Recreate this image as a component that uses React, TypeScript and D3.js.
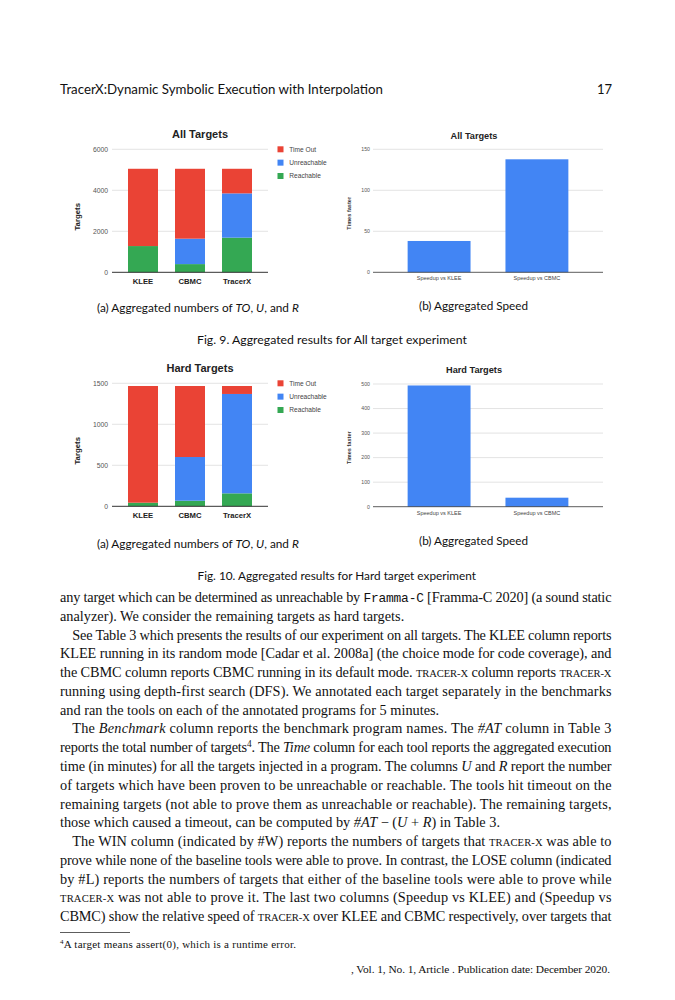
import React from 'react';
import * as d3 from 'd3';

// ---------- data ----------
const toolNames = ['KLEE', 'CBMC', 'TracerX'];
const seriesNames = ['Reachable', 'Unreachable', 'Time Out'];
const legendOrder = ['Time Out', 'Unreachable', 'Reachable'];
const allReachable = [1280, 400, 1690];
const allUnreachable = [0, 1240, 2160];
const allTimeOut = [3770, 3410, 1200];
const hardReachable = [44, 68, 158];
const hardUnreachable = [0, 533, 1212];
const hardTimeOut = [1423, 866, 97];
const speedupLabels = ['Speedup vs KLEE', 'Speedup vs CBMC'];
const allSpeedup = [38.2, 137.8];
const hardSpeedup = [494, 36.7];
const allTargetTicks = [0, 2000, 4000, 6000];
const hardTargetTicks = [0, 500, 1000, 1500];
const allSpeedTicks = [0, 50, 100, 150];
const hardSpeedTicks = [0, 100, 200, 300, 400, 500];

const colorOf: Record<string, string> = {
  Reachable: '#34A853',
  Unreachable: '#4285F4',
  'Time Out': '#EA4335',
};

const SANS = 'Liberation Sans, Arial, sans-serif';
const SERIF = 'Liberation Serif, Times New Roman, serif';
const CAP = 'Lato, Open Sans, sans-serif';

function StackedChart({ title, reach, unreach, timeout, ticks, yBottom, yTop }: any) {
  const rows = toolNames.map((t, i) => ({
    tool: t,
    Reachable: reach[i],
    Unreachable: unreach[i],
    'Time Out': timeout[i],
  }));
  const stacked = d3.stack<any>().keys(seriesNames)(rows);
  const y = d3.scaleLinear().domain([0, ticks[ticks.length - 1]]).range([yBottom, yTop]);
  const x = d3.scaleBand().domain(toolNames).range([119.5, 260.5]).paddingInner(0.362).paddingOuter(0.181);
  const gx0 = 112, gx1 = 268;
  return (
    <g>
      <text x={200} y={yBottom - 134.3} textAnchor="middle" fontFamily={SANS} fontWeight="bold" fontSize={11} fill="#222">{title}</text>
      {ticks.map((t: number) => (
        <g key={t}>
          {t !== 0 && <line x1={gx0} x2={gx1} y1={y(t)} y2={y(t)} stroke="#dcdcdc" strokeWidth={0.8} />}
          <text x={108} y={y(t) + 2.4} textAnchor="end" fontFamily={SANS} fontSize={6.8} fill="#555">{t}</text>
        </g>
      ))}
      {stacked.map((s: any) => (
        <g key={s.key} fill={colorOf[s.key]}>
          {s.map((d: any, i: number) => (
            <rect key={i} x={x(toolNames[i])} width={x.bandwidth()} y={y(d[1])} height={Math.max(0, y(d[0]) - y(d[1]))} />
          ))}
        </g>
      ))}
      <line x1={gx0} x2={gx1} y1={yBottom} y2={yBottom} stroke="#333" strokeWidth={1} />
      {toolNames.map((t) => (
        <text key={t} x={(x(t) as number) + x.bandwidth() / 2} y={yBottom + 12} textAnchor="middle" fontFamily={SANS} fontWeight="bold" fontSize={7.7} fill="#222">{t}</text>
      ))}
      <text transform={`translate(79.5,${yBottom - 55.5}) rotate(-90)`} textAnchor="middle" fontFamily={SANS} fontWeight="bold" fontSize={7.8} fill="#222">Targets</text>
      {legendOrder.map((k, i) => (
        <g key={k}>
          <rect x={277.5} y={yBottom - 123 + i * 13.35 - 3} width={6} height={6} fill={colorOf[k]} />
          <text x={289.3} y={yBottom - 123 + i * 13.35 + 2.3} fontFamily={SANS} fontSize={6.6} fill="#444">{k}</text>
        </g>
      ))}
    </g>
  );
}

function SpeedChart({ title, values, ticks, yBottom, yTop }: any) {
  const y = d3.scaleLinear().domain([0, ticks[ticks.length - 1]]).range([yBottom, yTop]);
  const x = d3.scaleBand().domain(speedupLabels).range([373, 603]).paddingInner(0.357).paddingOuter(0.354);
  const gx0 = 373, gx1 = 603;
  return (
    <g>
      <text x={474} y={yBottom - 133.6} textAnchor="middle" fontFamily={SANS} fontWeight="bold" fontSize={9.2} fill="#222">{title}</text>
      {ticks.map((t: number) => (
        <g key={t}>
          {t !== 0 && <line x1={gx0} x2={gx1} y1={y(t)} y2={y(t)} stroke="#dcdcdc" strokeWidth={0.8} />}
          <text x={370} y={y(t) + 1.8} textAnchor="end" fontFamily={SANS} fontSize={5.2} fill="#555">{t}</text>
        </g>
      ))}
      {values.map((v: number, i: number) => (
        <rect key={i} x={x(speedupLabels[i])} width={x.bandwidth()} y={y(v)} height={yBottom - y(v)} fill="#4285F4" />
      ))}
      <line x1={gx0} x2={gx1} y1={yBottom} y2={yBottom} stroke="#333" strokeWidth={0.8} />
      {speedupLabels.map((t) => (
        <text key={t} x={(x(t) as number) + x.bandwidth() / 2} y={yBottom + 8} textAnchor="middle" fontFamily={SANS} fontSize={5.5} fill="#444">{t}</text>
      ))}
      <text transform={`translate(351.3,${yBottom - 59}) rotate(-90)`} textAnchor="middle" fontFamily={SANS} fontSize={5.6} fontWeight="bold" fill="#333">Times faster</text>
    </g>
  );
}

// ---------- page text ----------
type Seg = [string, string];
const bodyLines: { segs: Seg[]; indent?: boolean; just: boolean }[] = [
  { segs: [['n', 'any target which can be determined as unreachable by '], ['m', 'Framma-C'], ['n', ' [Framma-C 2020] (a sound static']], just: true },
  { segs: [['n', 'analyzer). We consider the remaining targets as hard targets.']], just: false },
  { segs: [['n', 'See Table 3 which presents the results of our experiment on all targets. The KLEE column reports']], indent: true, just: true },
  { segs: [['n', 'KLEE running in its random mode [Cadar et al. 2008a] (the choice mode for code coverage), and']], just: true },
  { segs: [['n', 'the CBMC column reports CBMC running in its default mode. '], ['sc', 'TRACER-X'], ['n', ' column reports '], ['sc', 'TRACER-X']], just: true },
  { segs: [['n', 'running using depth-first search (DFS). We annotated each target separately in the benchmarks']], just: true },
  { segs: [['n', 'and ran the tools on each of the annotated programs for 5 minutes.']], just: false },
  { segs: [['n', 'The '], ['i', 'Benchmark'], ['n', ' column reports the benchmark program names. The '], ['i', '#AT'], ['n', ' column in Table 3']], indent: true, just: true },
  { segs: [['n', 'reports the total number of targets'], ['sup', '4'], ['n', '. The '], ['i', 'Time'], ['n', ' column for each tool reports the aggregated execution']], just: true },
  { segs: [['n', 'time (in minutes) for all the targets injected in a program. The columns '], ['i', 'U'], ['n', ' and '], ['i', 'R'], ['n', ' report the number']], just: true },
  { segs: [['n', 'of targets which have been proven to be unreachable or reachable. The tools hit timeout on the']], just: true },
  { segs: [['n', 'remaining targets (not able to prove them as unreachable or reachable). The remaining targets,']], just: true },
  { segs: [['n', 'those which caused a timeout, can be computed by '], ['i', '#AT'], ['n', ' \u2212 ('], ['i', 'U'], ['n', ' + '], ['i', 'R'], ['n', ') in Table 3.']], just: false },
  { segs: [['n', 'The WIN column (indicated by #W) reports the numbers of targets that '], ['sc', 'TRACER-X'], ['n', ' was able to']], indent: true, just: true },
  { segs: [['n', 'prove while none of the baseline tools were able to prove. In contrast, the LOSE column (indicated']], just: true },
  { segs: [['n', 'by #L) reports the numbers of targets that either of the baseline tools were able to prove while']], just: true },
  { segs: [['sc', 'TRACER-X'], ['n', ' was not able to prove it. The last two columns (Speedup vs KLEE) and (Speedup vs']], just: true },
  { segs: [['n', 'CBMC) show the relative speed of '], ['sc', 'TRACER-X'], ['n', ' over KLEE and CBMC respectively, over targets that']], just: true },
];

function Segs({ segs, size }: { segs: Seg[]; size: number }) {
  const out: any[] = [];
  let shifted = false;
  segs.forEach(([k, t], i) => {
    const back = shifted ? size * 0.38 : undefined;
    shifted = false;
    if (k === 'i') out.push(<tspan key={i} dy={back} fontStyle="italic">{t}</tspan>);
    else if (k === 'm') out.push(<tspan key={i} dy={back} fontFamily="Liberation Mono, DejaVu Sans Mono, monospace" fontSize={size * 0.9}>{t}</tspan>);
    else if (k === 'sc') out.push(<tspan key={i} dy={back} fontSize={size * 0.74}>{t}</tspan>);
    else if (k === 'sup') { out.push(<tspan key={i} dy={-size * 0.38} fontSize={size * 0.65}>{t}</tspan>); shifted = true; }
    else out.push(<tspan key={i} dy={back}>{t}</tspan>);
  });
  return <>{out}</>;
}

const LEFT = 60, RIGHT = 611.5, LINE0 = 602, LEAD = 18.78, BODY = 14.3;

export default function App() {
  return (
    <svg width={675} height={1000} viewBox="0 0 675 1000" style={{ position: 'absolute', left: 0, top: 0, background: '#fff' }}>
      <rect width={675} height={1000} fill="#fff" />
      <text x={60} y={93.5} fontFamily={CAP} fontSize={13} fill="#111" textLength={323} lengthAdjust="spacingAndGlyphs">TracerX:Dynamic Symbolic Execution with Interpolation</text>
      <text x={612} y={93.5} textAnchor="end" fontFamily={CAP} fontSize={13} fill="#111">17</text>

      <StackedChart title="All Targets" reach={allReachable} unreach={allUnreachable} timeout={allTimeOut} ticks={allTargetTicks} yBottom={272.3} yTop={149.3} />
      <SpeedChart title="All Targets" values={allSpeedup} ticks={allSpeedTicks} yBottom={272.3} yTop={149.3} />

      <text x={97} y={311.5} fontFamily={CAP} fontSize={11.8} fill="#111">(a) Aggregated numbers of <tspan fontStyle="italic">TO</tspan>, <tspan fontStyle="italic">U</tspan>, and <tspan fontStyle="italic">R</tspan></text>
      <text x={419} y={309.5} fontFamily={CAP} fontSize={12.3} fill="#111" textLength={109} lengthAdjust="spacingAndGlyphs">(b) Aggregated Speed</text>
      <text x={197} y={344} fontFamily={CAP} fontSize={12.3} fill="#111" textLength={270} lengthAdjust="spacingAndGlyphs">Fig. 9.  Aggregated results for All target experiment</text>

      <StackedChart title="Hard Targets" reach={hardReachable} unreach={hardUnreachable} timeout={hardTimeOut} ticks={hardTargetTicks} yBottom={506.3} yTop={383.3} />
      <SpeedChart title="Hard Targets" values={hardSpeedup} ticks={hardSpeedTicks} yBottom={506.7} yTop={384} />

      <text x={97} y={547.5} fontFamily={CAP} fontSize={11.8} fill="#111">(a) Aggregated numbers of <tspan fontStyle="italic">TO</tspan>, <tspan fontStyle="italic">U</tspan>, and <tspan fontStyle="italic">R</tspan></text>
      <text x={419} y={545} fontFamily={CAP} fontSize={12.3} fill="#111" textLength={109} lengthAdjust="spacingAndGlyphs">(b) Aggregated Speed</text>
      <text x={197.5} y={580} fontFamily={CAP} fontSize={12.3} fill="#111" textLength={278.5} lengthAdjust="spacingAndGlyphs">Fig. 10.  Aggregated results for Hard target experiment</text>

      {bodyLines.map((ln, i) => {
        const x0 = ln.indent ? LEFT + 12.3 : LEFT;
        const props: any = ln.just ? { textLength: RIGHT - x0, lengthAdjust: 'spacing' } : {};
        return (
          <text key={i} x={x0} y={LINE0 + i * LEAD} fontFamily={SERIF} fontSize={BODY} fill="#111" {...props}>
            <Segs segs={ln.segs} size={BODY} />
          </text>
        );
      })}

      <line x1={60} x2={130} y1={932.5} y2={932.5} stroke="#333" strokeWidth={0.8} />
      <text x={60} y={948} fontFamily={SERIF} fontSize={11} fill="#111" textLength={236} lengthAdjust="spacing">
        <tspan fontSize={7} dy={-4}>4</tspan><tspan dy={4}>A target means assert(0), which is a runtime error.</tspan>
      </text>
      <text x={610} y={972.5} textAnchor="end" fontFamily={SERIF} fontSize={11.4} fill="#111" textLength={259} lengthAdjust="spacing">, Vol. 1, No. 1, Article . Publication date: December 2020.</text>
    </svg>
  );
}
